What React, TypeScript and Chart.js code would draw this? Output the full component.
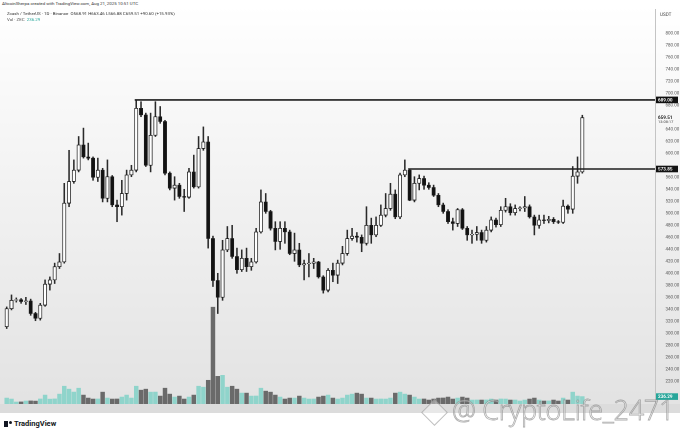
import React, { useEffect, useRef } from 'react';
import { Chart, registerables } from 'chart.js';

Chart.register(...registerables);

// Daily candles, Apr 23 .. Aug 21
const opens = [
  311, 341, 355, 356, 353, 354, 333, 325, 347, 382,
  389, 411, 419, 517, 553, 572, 614, 594, 592, 560,
  572, 525, 561, 514, 511, 533, 564, 572, 675, 664,
  580, 630, 661, 653, 567, 542, 547, 528, 527, 569,
  544, 608, 619, 458, 388, 360, 439, 458, 428, 406,
  425, 411, 419, 469, 519, 503, 475, 453, 475, 469,
  433, 439, 414, 416, 417, 419, 394, 372, 405, 397,
  417, 433, 458, 462, 460, 450, 480, 464, 480, 497,
  508, 532, 494, 564, 572, 522, 550, 558, 547, 543,
  530, 514, 503, 486, 483, 506, 475, 464, 465, 468,
  455, 472, 489, 481, 505, 511, 501, 508, 509, 511,
  494, 480, 489, 488, 490, 486, 485, 512, 507, 562,
  568.91,
];
const highs = [
  344, 364, 359, 358, 360, 357, 335, 350, 389, 394,
  417, 433, 550, 605, 589, 628, 642, 617, 594, 592,
  575, 589, 563, 522, 555, 572, 580, 689, 686, 667,
  667, 686, 678, 655, 569, 561, 550, 540, 575, 597,
  628, 644, 628, 462, 400, 455, 478, 480, 442, 439,
  442, 425, 475, 539, 533, 505, 486, 486, 486, 472,
  467, 450, 422, 433, 425, 420, 396, 408, 417, 422,
  445, 472, 475, 468, 464, 511, 492, 494, 514, 533,
  550, 539, 567, 589, 574, 561, 564, 562, 551, 547,
  533, 517, 506, 492, 508, 508, 478, 472, 478, 472,
  478, 494, 492, 511, 525, 516, 514, 511, 528, 514,
  497, 497, 497, 495, 493, 488, 522, 514, 578, 594,
  663.46,
];
const lows = [
  308, 339, 352, 350, 348, 330, 321, 322, 345, 372,
  383, 408, 417, 511, 550, 569, 592, 589, 555, 553,
  519, 519, 511, 486, 497, 522, 561, 569, 661, 578,
  569, 628, 650, 564, 539, 522, 525, 503, 525, 542,
  542, 605, 442, 378, 333, 355, 436, 425, 400, 403,
  403, 405, 417, 467, 500, 472, 439, 440, 450, 431,
  420, 411, 389, 394, 408, 392, 367, 369, 386, 383,
  414, 430, 455, 452, 436, 447, 450, 461, 478, 494,
  505, 491, 491, 561, 521, 519, 539, 540, 540, 528,
  511, 500, 483, 472, 478, 473, 455, 450, 455, 450,
  452, 469, 477, 478, 502, 497, 497, 504, 503, 492,
  464, 475, 483, 484, 483, 483, 483, 500, 500, 550,
  566.88,
];
const closes = [
  341, 355, 356, 353, 354, 333, 325, 347, 382, 389,
  411, 419, 517, 553, 572, 614, 594, 592, 560, 572,
  525, 561, 514, 511, 533, 564, 572, 675, 664, 580,
  630, 661, 653, 567, 542, 547, 528, 527, 569, 544,
  608, 619, 458, 388, 360, 439, 458, 428, 406, 425,
  411, 419, 469, 519, 503, 475, 453, 475, 469, 433,
  439, 414, 416, 417, 419, 394, 372, 405, 397, 417,
  433, 458, 462, 460, 450, 480, 464, 480, 497, 508,
  532, 494, 564, 572, 522, 550, 558, 547, 543, 530,
  514, 503, 486, 483, 506, 475, 464, 465, 468, 455,
  472, 489, 481, 505, 511, 501, 508, 509, 511, 494,
  480, 489, 488, 490, 486, 485, 512, 507, 562, 568.91,
  659.51,
];
const volumes = [
  189, 158, 63, 66, 95, 98, 92, 160, 284, 155,
  162, 315, 567, 473, 380, 504, 284, 189, 158, 160,
  378, 189, 158, 160, 221, 284, 189, 567, 441, 473,
  378, 380, 252, 504, 315, 221, 252, 158, 221, 284,
  567, 536, 756, 3087, 882, 914, 536, 567, 473, 347,
  347, 252, 255, 504, 410, 378, 284, 221, 158, 189,
  189, 252, 189, 158, 160, 221, 252, 284, 189, 158,
  189, 284, 315, 347, 315, 189, 189, 158, 160, 158,
  189, 347, 378, 315, 284, 221, 158, 160, 126, 158,
  189, 192, 221, 158, 189, 221, 189, 126, 128, 126,
  130, 158, 126, 160, 158, 126, 128, 95, 126, 158,
  189, 126, 95, 98, 126, 95, 189, 126, 378, 252,
  236.29,
];

const xTickIdx = [2, 8, 12, 16, 20, 24, 28, 32, 39, 43, 47, 51, 55, 59, 63, 69, 73, 77, 81, 85, 89, 93, 100, 104, 108, 112, 116, 120];
const xTickText = ['25', 'May', '5', '9', '13', '17', '21', '25', 'Jun', '5', '9', '13', '17', '21', '25', 'Jul', '5', '9', '13', '17', '21', '25', 'Aug', '5', '9', '13', '17', '21'];
const yTickValues = [220, 240, 260, 280, 300, 320, 340, 360, 380, 400, 420, 440, 460, 480, 500, 520, 540, 560, 600, 620, 640, 680, 700, 720, 740, 760, 780, 800];

const levelValues = [689.0, 573.85];
const levelStartIdx = [27, 84];
const lastPrice = 659.51;
const countdown = '13:08:17';
const lastVolume = 236.29;

const UP_VOL = '#8fd4cb';
const DOWN_VOL = '#6a6a6a';
const FONT = 'Roboto, "DejaVu Sans", sans-serif';

const tvPlugin = {
  id: 'tvDecor',
  beforeDraw(chart: any) {
    const { ctx, width, height, chartArea } = chart;
    ctx.save();
    const g = ctx.createLinearGradient(0, chartArea.top, 0, chartArea.bottom);
    g.addColorStop(0, '#ffffff');
    g.addColorStop(1, '#e3e3e3');
    ctx.fillStyle = g;
    ctx.fillRect(0, 0, width, chartArea.bottom);
    ctx.fillStyle = '#dcdcdc';
    ctx.fillRect(0, chartArea.bottom, width, height - chartArea.bottom);
    ctx.strokeStyle = '#c4c4c4';
    ctx.lineWidth = 1;
    ctx.beginPath();
    ctx.moveTo(chartArea.right + 0.5, 0);
    ctx.lineTo(chartArea.right + 0.5, chartArea.bottom);
    ctx.stroke();
    ctx.restore();
  },
  afterDraw(chart: any) {
    const { ctx, width, chartArea, scales } = chart;
    const y = scales.y;
    const x = scales.x;
    const yv = scales.yv;
    ctx.save();
    levelValues.forEach((v, k) => {
      const py = y.getPixelForValue(v);
      const px = x.getPixelForValue(levelStartIdx[k]) - 1.5;
      ctx.strokeStyle = '#1e1e1e';
      ctx.lineWidth = 1.6;
      ctx.beginPath();
      ctx.moveTo(px, py);
      ctx.lineTo(chartArea.right, py);
      ctx.stroke();
      ctx.fillStyle = '#111';
      ctx.fillRect(chartArea.right + 1, py - 3.3, width - chartArea.right - 3, 6.6);
      ctx.fillStyle = '#fff';
      ctx.font = `bold 4.6px ${FONT}`;
      ctx.textBaseline = 'middle';
      ctx.textAlign = 'left';
      ctx.fillText(v.toFixed(2), chartArea.right + 3, py + 0.2);
    });
    const pp = y.getPixelForValue(lastPrice);
    ctx.fillStyle = '#222';
    ctx.font = `bold 4.6px ${FONT}`;
    ctx.textBaseline = 'middle';
    ctx.fillText(lastPrice.toFixed(2), chartArea.right + 3, pp);
    ctx.font = `4px ${FONT}`;
    ctx.fillStyle = '#444';
    ctx.fillText(countdown, chartArea.right + 3, pp + 4.6);
    ctx.font = `4.6px ${FONT}`;
    ctx.fillStyle = '#444';
    ctx.fillText('USDT', chartArea.right + 5, chartArea.top + 6);
    const vp = yv.getPixelForValue(lastVolume);
    ctx.fillStyle = '#26a69a';
    ctx.fillRect(chartArea.right + 1, vp - 3.3, width - chartArea.right - 3, 6.6);
    ctx.fillStyle = '#fff';
    ctx.font = `bold 4.6px ${FONT}`;
    ctx.fillText(lastVolume.toFixed(2), chartArea.right + 3, vp + 0.2);
    ctx.restore();
  },
};

function CandleChart() {
  const ref = useRef<HTMLCanvasElement | null>(null);
  useEffect(() => {
    if (!ref.current) return;
    const idx = opens.map((_, i) => i);
    const up = idx.map((i) => closes[i] >= opens[i]);
    const chart = new Chart(ref.current, {
      type: 'bar',
      data: {
        datasets: [
          {
            label: 'body',
            data: idx.map((i) => ({ x: i, y: [opens[i], closes[i]] })) as any,
            backgroundColor: idx.map((i) => (up[i] ? '#ffffff' : '#121212')),
            borderColor: '#1c1c1c',
            borderWidth: 0.8,
            borderSkipped: false,
            barThickness: 3.3,
            grouped: false,
            order: 0,
            yAxisID: 'y',
          },
          {
            label: 'wick',
            data: idx.map((i) => ({ x: i, y: [lows[i], highs[i]] })) as any,
            backgroundColor: '#2a2a2a',
            borderWidth: 0,
            barThickness: 0.9,
            grouped: false,
            order: 1,
            yAxisID: 'y',
          },
          {
            label: 'volume',
            data: idx.map((i) => ({ x: i, y: volumes[i] })) as any,
            backgroundColor: idx.map((i) => (up[i] ? UP_VOL : DOWN_VOL)),
            borderWidth: 0,
            barThickness: 3.8,
            grouped: false,
            order: 2,
            yAxisID: 'yv',
          },
        ],
      },
      options: {
        animation: false,
        responsive: false,
        devicePixelRatio: 2,
        layout: { padding: 0 },
        plugins: { legend: { display: false }, tooltip: { enabled: false } },
        scales: {
          x: {
            type: 'linear',
            offset: false,
            min: -1.397,
            max: 135.15,
            grid: { display: false },
            border: { display: false },
            afterBuildTicks: (s: any) => {
              s.ticks = xTickIdx.map((v) => ({ value: v }));
            },
            afterFit: (s: any) => {
              s.height = 9;
              s.paddingLeft = 0;
              s.paddingRight = 0;
            },
            ticks: {
              autoSkip: false,
              maxRotation: 0,
              padding: 1.5,
              color: '#555',
              font: { size: 4.5, family: FONT },
              callback: (_v: any, i: number) => xTickText[i] ?? '',
            },
          },
          y: {
            type: 'linear',
            position: 'right',
            min: 182.2,
            max: 840.5,
            grid: { display: false },
            border: { display: false },
            afterBuildTicks: (s: any) => {
              s.ticks = yTickValues.map((v) => ({ value: v }));
            },
            afterFit: (s: any) => {
              s.width = 25;
              s.paddingTop = 0;
              s.paddingBottom = 0;
            },
            ticks: {
              padding: 2.5,
              color: '#555',
              font: { size: 4.5, family: FONT },
              callback: (v: any) => Number(v).toFixed(2),
            },
          },
          yv: {
            type: 'linear',
            display: false,
            min: 0,
            max: 12600,
          },
        },
      },
      plugins: [tvPlugin],
    } as any);
    return () => chart.destroy();
  }, []);
  return <canvas ref={ref} width={680} height={404} style={{ width: 680, height: 404, display: 'block' }} />;
}

export default function App() {
  const small: React.CSSProperties = { position: 'absolute', whiteSpace: 'nowrap', lineHeight: 1, fontFamily: FONT };
  return (
    <div style={{ position: 'absolute', left: 0, top: 0, width: 680, height: 436, background: '#fff', overflow: 'hidden' }}>
      <div style={{ ...small, left: 2, top: 2, fontSize: 4.4, color: '#333' }}>
        AltcoinSherpa created with TradingView.com, Aug 21, 2025 10:51 UTC
      </div>
      <div style={{ position: 'absolute', left: 0, top: 9 }}>
        <CandleChart />
      </div>
      <div style={{ ...small, left: 7, top: 12, fontSize: 4.4, color: '#333' }}>
        Zcash / TetherUS · 1D · Binance&nbsp;&nbsp;O568.91 H663.46 L566.88 C659.51 +90.60 (+15.93%)
      </div>
      <div style={{ ...small, left: 7, top: 18, fontSize: 4.4, color: '#555' }}>
        Vol · ZEC&nbsp;&nbsp;<span style={{ color: '#26a69a' }}>236.29</span>
      </div>
      <div style={{ position: 'absolute', left: 4, top: 421, width: 4, height: 6, background: '#131722' }} />
      <div style={{ position: 'absolute', left: 8.5, top: 421, width: 3, height: 3, borderRadius: 2, background: '#131722' }} />
      <div style={{ ...small, left: 14, top: 420, fontSize: 7.5, fontWeight: 700, color: '#131722' }}>TradingView</div>
      <div
        style={{
          position: 'absolute',
          left: 425,
          top: 403,
          width: 17,
          height: 17,
          transform: 'rotate(45deg)',
          border: '1.5px solid rgba(140,140,140,0.55)',
          background: 'rgba(255,255,255,0.35)',
        }}
      />
      <div
        style={{
          ...small,
          left: 452,
          top: 396,
          fontSize: 27,
          fontWeight: 300,
          fontFamily: '"Open Sans", sans-serif',
          color: 'rgba(255,255,255,0.55)',
          WebkitTextStroke: '0.8px rgba(120,120,120,0.6)',
          letterSpacing: -0.3,
        }}
      >
        @ CryptoLife_2471
      </div>
    </div>
  );
}
